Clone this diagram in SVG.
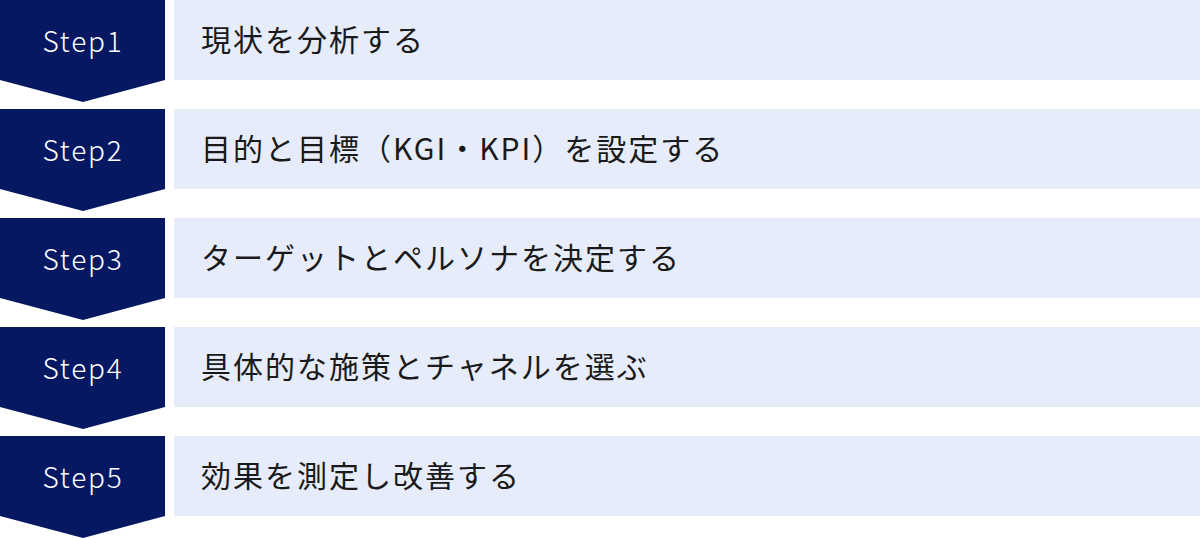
<svg xmlns="http://www.w3.org/2000/svg" width="1200" height="538" viewBox="0 0 1200 538">
<style>
.badge{fill:#071862}
.bar{fill:#e6ecf9}
.st{font-family:"Noto Sans CJK JP","Noto Sans",sans-serif;font-size:28px;font-weight:300;fill:#ffffff;text-anchor:middle;letter-spacing:1.8px}
.lb{font-family:"Noto Sans CJK JP",sans-serif;font-size:30px;fill:#1a1a1a;letter-spacing:2px}
</style>
<rect width="1200" height="538" fill="#ffffff"/>
<g id="step1">
<polygon class="badge" points="0,0 165,0 165,80 83,102 0,80"/>
<rect class="bar" x="174" y="0" width="1026" height="80"/>
<text class="st" x="83" y="52">Step1</text>
<text class="lb" x="201" y="51">現状を分析する</text>
</g>
<g id="step2">
<polygon class="badge" points="0,109 165,109 165,189 83,211 0,189"/>
<rect class="bar" x="174" y="109" width="1026" height="80"/>
<text class="st" x="83" y="161">Step2</text>
<text class="lb" x="201" y="160">目的と目標（KGI・KPI）を設定する</text>
</g>
<g id="step3">
<polygon class="badge" points="0,218 165,218 165,298 83,320 0,298"/>
<rect class="bar" x="174" y="218" width="1026" height="80"/>
<text class="st" x="83" y="270">Step3</text>
<text class="lb" x="201" y="269">ターゲットとペルソナを決定する</text>
</g>
<g id="step4">
<polygon class="badge" points="0,327 165,327 165,407 83,429 0,407"/>
<rect class="bar" x="174" y="327" width="1026" height="80"/>
<text class="st" x="83" y="379">Step4</text>
<text class="lb" x="201" y="378">具体的な施策とチャネルを選ぶ</text>
</g>
<g id="step5">
<polygon class="badge" points="0,436 165,436 165,516 83,538 0,516"/>
<rect class="bar" x="174" y="436" width="1026" height="80"/>
<text class="st" x="83" y="488">Step5</text>
<text class="lb" x="201" y="487">効果を測定し改善する</text>
</g>
<g id="connectors"></g>
</svg>
